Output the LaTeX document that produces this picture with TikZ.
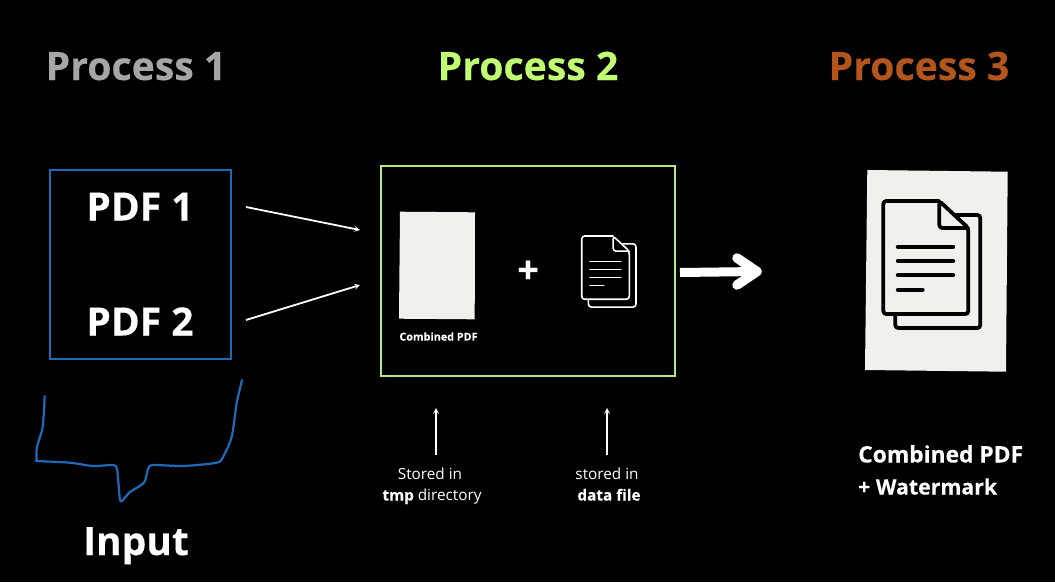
\documentclass[tikz,border=0pt]{standalone}
\usepackage{fontspec}
\setmainfont[BoldFeatures={FakeBold=0.25}]{Open Sans}
\usetikzlibrary{arrows.meta}
\definecolor{bluec}{HTML}{1E6AB8}
\definecolor{greenc}{HTML}{B4E878}
\definecolor{titlegreen}{HTML}{C1FF72}
\definecolor{titlegray}{HTML}{A6A6A6}
\definecolor{titleorange}{HTML}{B4561C}
\definecolor{paperc}{HTML}{F0F0EC}
\tikzset{
  x=1pt,y=-1pt,
  title/.style={font=\bfseries\fontsize{39.2}{40}\selectfont,inner sep=0pt,anchor=base},
  big/.style={font=\bfseries\fontsize{39}{42}\selectfont,text=white,inner sep=0pt,anchor=base},
  small/.style={font=\fontsize{15.3}{21}\selectfont,text=white,inner sep=0pt,anchor=base},
  thin arrow/.style={draw=white,line width=1.8pt,-{Stealth[length=6pt,width=6pt,inset=3pt]}},
  paper/.style={fill=paperc,draw=none},
  docicon/.pic={
    \draw[line join=round,line cap=round,rounded corners=3pt] (72,14) -- (97,14) -- (97,127) -- (12,127) -- (12,113);
    \draw[line join=round,line cap=round,rounded corners=3pt] (56,0) -- (0,0) -- (0,113) -- (85,113) -- (85,27) -- (56,0) -- (56,27) -- (85,27);
    \draw[line cap=round] (14.4,45.7) -- (70,45.7) (14.4,60) -- (70,60) (14.4,74.3) -- (70,74.3) (14.4,88.7) -- (39.4,88.7);
  }
}
\begin{document}
\begin{tikzpicture}
\useasboundingbox (0,0) rectangle (1055,582);
\fill[black] (0,0) rectangle (1055,582);

\node[title,text=titlegray] (t1) at (136,80) {Process 1};
\node[title,text=titlegreen] (t2) at (528,80) {Process 2};
\node[title,text=titleorange] (t3) at (919,80) {Process 3};

\node[draw=bluec,line width=2.2pt,minimum width=181pt,minimum height=189pt,inner sep=0pt] (inbox) at (140.5,264.5) {};
\node[big] (pdf1) at (140,220.5) {PDF 1};
\node[big] (pdf2) at (140,335.5) {PDF 2};

\node[draw=greenc,line width=2.4pt,minimum width=294pt,minimum height=210pt,inner sep=0pt] (midbox) at (528,271) {};
\fill[paper] (400,211.7) -- (475,212.3) -- (474.7,319.3) -- (399,318.7) -- cycle;
\node[font=\bfseries\fontsize{10.8}{12}\selectfont,text=white,inner sep=0pt] (comb) at (438.5,336.5) {Combined PDF};
\node[font=\bfseries\fontsize{38}{40}\selectfont,text=white,inner sep=0pt] (plus) at (528,272) {+};
\pic[color=white,line width=1.6pt,scale=0.56] at (581.7,236) {docicon};

\coordinate (a1s) at (246,207);
\coordinate (a1e) at (360,230);
\coordinate (a2s) at (246,320);
\coordinate (a2e) at (360,285);
\draw[thin arrow] (a1s) -- (a1e);
\draw[thin arrow] (a2s) -- (a2e);

\coordinate (bs) at (680,272.5);
\coordinate (be) at (757,271.5);
\draw[white,line width=9pt] (bs) -- (be);
\draw[white,line width=9.5pt,line cap=round,line join=round] (737,258) -- (757,271.5) -- (737,285);

\fill[paper] (867.3,170) -- (1007.7,171.7) -- (1006,371.7) -- (865,370) -- cycle;
\pic[color=black,line width=3.8pt] at (883.3,201) {docicon};

\node[small] (s1a) at (430,479) {Stored in};
\node[small] (s1b) at (432,500.5) {\textbf{tmp} directory};
\node[small] (s2a) at (607,479) {stored in};
\node[small] (s2b) at (609,500.5) {\textbf{data file}};
\coordinate (u1) at (436,408);
\coordinate (u1s) at (436,455);
\coordinate (u2) at (607,408);
\coordinate (u2s) at (607,455);
\draw[thin arrow] (u1s) -- (u1);
\draw[thin arrow] (u2s) -- (u2);

\draw[bluec,line width=2.2pt,line cap=round,line join=round] plot[smooth,tension=0.45] coordinates {
(44.7,396) (42.7,426.7) (37,447) (36.7,459) (38,461) (70,462.7) (93,466) (113,465) (117,469) (119,490) (120,500) (122,501) (130,492) (144,482.7) (148,469) (153,465) (183,466) (216.7,462.7) (223,457) (231.7,436.7) (236.7,403) (242,380)};

\node[big] (inp) at (136,555) {Input};
\node[font=\bfseries\fontsize{22.8}{32}\selectfont,text=white,inner sep=0pt,anchor=base west] (res1) at (858,462.5) {Combined PDF};
\node[font=\bfseries\fontsize{21.3}{32}\selectfont,text=white,inner sep=0pt,anchor=base west] (res2) at (858,494.5) {+ Watermark};
\end{tikzpicture}
\end{document}
